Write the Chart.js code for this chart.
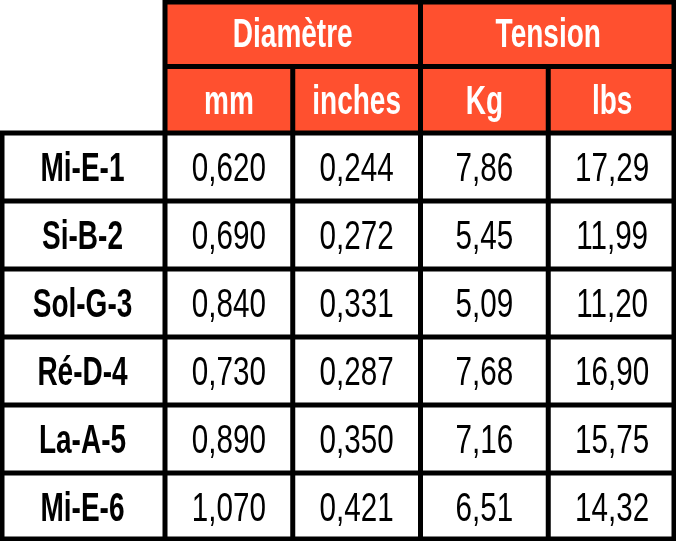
<!DOCTYPE html>
<html>
<head>
<meta charset="utf-8">
<script src="https://cdn.jsdelivr.net/npm/chart.js@4"></script>
<style>
  body { margin: 0; background: #fff; }
</style>
</head>
<body>
<canvas id="tabla" width="676" height="541"></canvas>
<script>
// datos de la tabla
const grupos = ["Diamètre", "Tension"];
const columnas = ["mm", "inches", "Kg", "lbs"];
const cuerdas = ["Mi-E-1", "Si-B-2", "Sol-G-3", "Ré-D-4", "La-A-5", "Mi-E-6"];
const mm = ["0,620", "0,690", "0,840", "0,730", "0,890", "1,070"];
const inches = ["0,244", "0,272", "0,331", "0,287", "0,350", "0,421"];
const kg = ["7,86", "5,45", "5,09", "7,68", "7,16", "6,51"];
const lbs = ["17,29", "11,99", "11,20", "16,90", "15,75", "14,32"];

const valores = [mm, inches, kg, lbs];
const naranja = "#ff502f";
const fuente = '"Liberation Sans", Arial, sans-serif';

// texto estrecho (la fuente original es condensada)
function texto(ctx, str, x, y, escala) {
  ctx.save();
  ctx.translate(x, y);
  ctx.scale(escala, 1);
  ctx.fillText(str, 0, 0);
  ctx.restore();
}

const tablaPlugin = {
  id: "tabla",
  afterDraw(chart) {
    const ctx = chart.ctx;
    const xs = chart.scales.x, ys = chart.scales.y;
    const area = chart.chartArea;
    const anchoCol = (area.right - area.left) / columnas.length;
    const altoFila = (area.bottom - area.top) / cuerdas.length;
    const altoCab = area.top / 2;
    ctx.save();
    ctx.textAlign = "center";
    ctx.textBaseline = "middle";

    // cabecera
    ctx.fillStyle = naranja;
    ctx.fillRect(area.left, 0, area.right - area.left, area.top);
    ctx.fillStyle = "#fff";
    ctx.font = "bold 40px " + fuente;
    grupos.forEach((g, i) => {
      const x = (xs.getPixelForValue(i * 2) + xs.getPixelForValue(i * 2 + 1)) / 2;
      texto(ctx, g, x, altoCab / 2 + 3, 0.7);
    });
    columnas.forEach((c, i) => {
      texto(ctx, c, xs.getPixelForValue(i), altoCab * 1.5 + 3, 0.7);
    });

    // filas
    cuerdas.forEach((nombre, r) => {
      const y = ys.getPixelForValue(r) + 3;
      ctx.fillStyle = "#000";
      ctx.font = "bold 40px " + fuente;
      texto(ctx, nombre, area.left / 2, y, 0.7);
      ctx.font = "40px " + fuente;
      valores.forEach((serie, c) => {
        texto(ctx, serie[r], xs.getPixelForValue(c), y, 0.74);
      });
    });

    // bordes
    ctx.strokeStyle = "#000";
    ctx.lineWidth = 5;
    ctx.beginPath();
    ctx.moveTo(area.left, 2); ctx.lineTo(area.right, 2);
    ctx.moveTo(area.left, altoCab); ctx.lineTo(area.right, altoCab);
    for (let r = 0; r <= cuerdas.length; r++) {
      const y = Math.min(area.top + r * altoFila, area.bottom - 2);
      ctx.moveTo(0, y); ctx.lineTo(area.right, y);
    }
    ctx.moveTo(2, area.top); ctx.lineTo(2, area.bottom);
    ctx.moveTo(area.left, 0); ctx.lineTo(area.left, area.bottom);
    for (let c = 1; c <= columnas.length; c++) {
      const x = Math.min(area.left + c * anchoCol, area.right - 2);
      const y0 = (c % 2 === 0) ? 0 : altoCab;
      ctx.moveTo(x, y0); ctx.lineTo(x, area.bottom);
    }
    ctx.stroke();
    ctx.restore();
  }
};

new Chart(document.getElementById("tabla"), {
  type: "bar",
  data: {
    labels: columnas,
    datasets: [{ data: [] }]
  },
  options: {
    responsive: false,
    animation: false,
    devicePixelRatio: 1,
    layout: { padding: { left: 165, top: 133, right: 0, bottom: 0 } },
    plugins: { legend: { display: false }, tooltip: { enabled: false } },
    scales: {
      x: { type: "category", labels: columnas, display: false, offset: true },
      y: { type: "category", labels: cuerdas, display: false, offset: true }
    }
  },
  plugins: [tablaPlugin]
});
</script>
</body>
</html>
